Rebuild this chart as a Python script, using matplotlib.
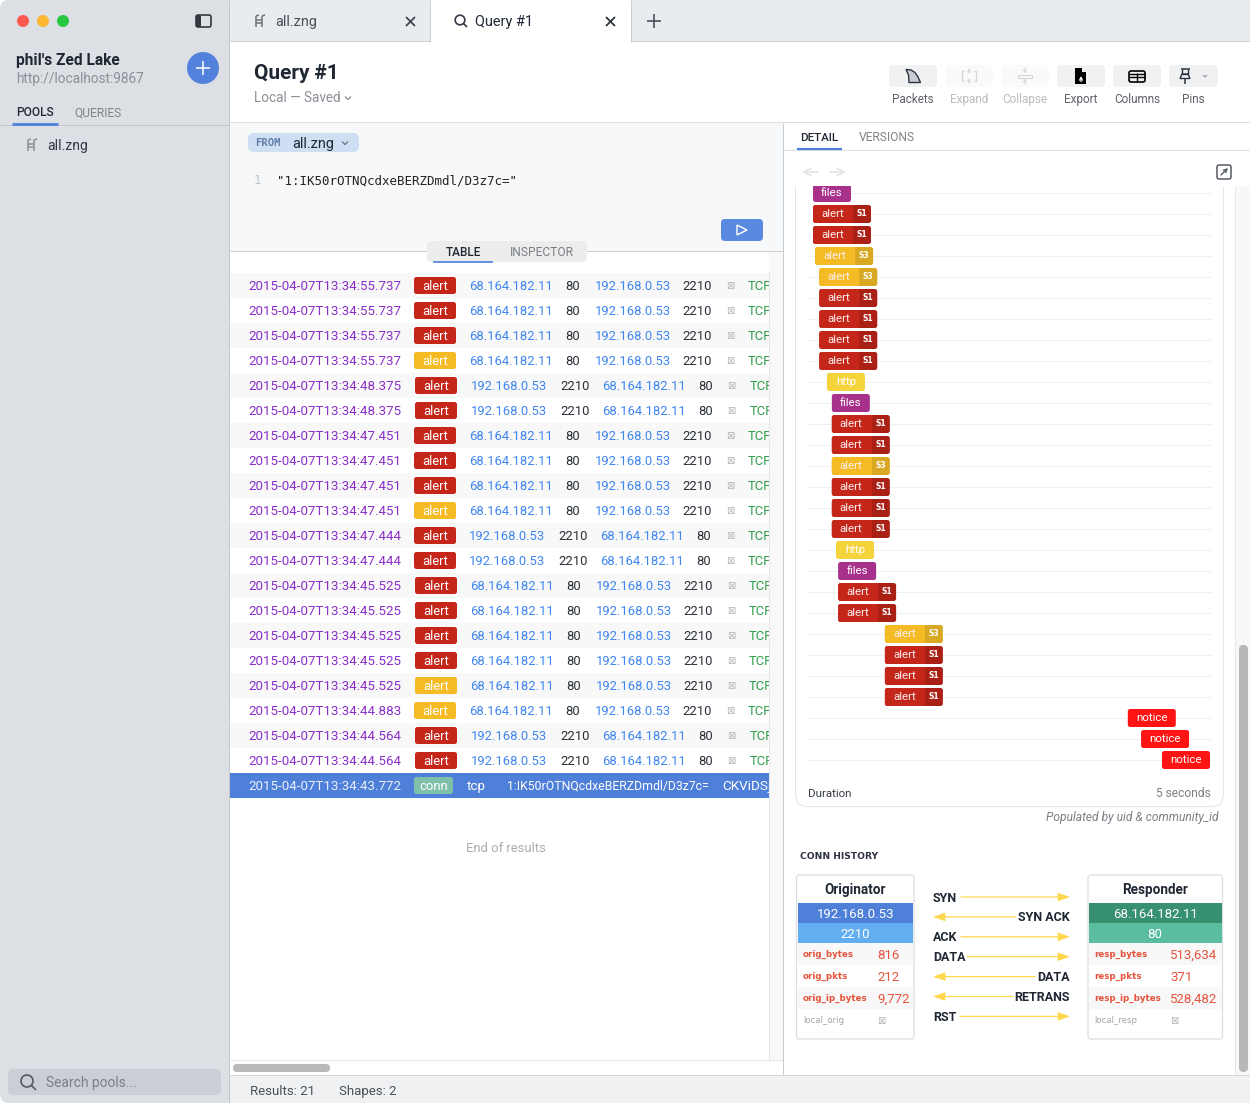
import matplotlib
matplotlib.use("Agg")
import matplotlib.pyplot as plt
from matplotlib.patches import FancyBboxPatch, Rectangle, Circle, Polygon

# table rows
row_times = ["2015-04-07T13:34:55.737"] * 4 + ["2015-04-07T13:34:48.375"] * 2 + \
    ["2015-04-07T13:34:47.451"] * 4 + ["2015-04-07T13:34:47.444"] * 2 + \
    ["2015-04-07T13:34:45.525"] * 5 + ["2015-04-07T13:34:44.883"] + \
    ["2015-04-07T13:34:44.564"] * 2
row_severity = [1, 1, 1, 3, 1, 1, 1, 1, 1, 3, 1, 1, 1, 1, 1, 1, 3, 3, 1, 1]
row_from_orig = [0, 0, 0, 0, 1, 1, 0, 0, 0, 0, 1, 1, 0, 0, 0, 0, 0, 0, 1, 1]
orig_host, orig_port = "192.168.0.53", "2210"
resp_host, resp_port = "68.164.182.11", "80"

# timeline events, start is seconds after the first event
event_names = ["files", "alert", "alert", "alert", "alert", "alert", "alert", "alert", "alert", "http",
               "files", "alert", "alert", "alert", "alert", "alert", "alert", "http", "files", "alert",
               "alert", "alert", "alert", "alert", "alert", "notice", "notice", "notice"]
event_tags = ["", "S1", "S1", "S3", "S3", "S1", "S1", "S1", "S1", "",
              "", "S1", "S1", "S3", "S1", "S1", "S1", "", "", "S1",
              "S1", "S3", "S1", "S1", "S1", "", "", ""]
event_start = [0, 0, 0, 0.03, 0.09, 0.09, 0.09, 0.09, 0.09, 0.2,
               0.27, 0.27, 0.27, 0.27, 0.27, 0.27, 0.27, 0.33, 0.36, 0.36,
               0.36, 1.03, 1.03, 1.03, 1.03, 4.51, 4.70, 5.0]

# conn history
orig_labels = ["orig_bytes", "orig_pkts", "orig_ip_bytes", "local_orig"]
orig_values = ["816", "212", "9,772", "⊠"]
resp_labels = ["resp_bytes", "resp_pkts", "resp_ip_bytes", "local_resp"]
resp_values = ["513,634", "371", "528,482", "⊠"]
history_names = ["SYN", "SYN ACK", "ACK", "DATA", "DATA", "RETRANS", "RST"]
history_to_resp = [1, 0, 1, 1, 0, 0, 1]

tool_names = ["Packets", "Expand", "Collapse", "Export", "Columns", "Pins"]
tool_enabled = [1, 0, 0, 1, 1, 1]

RED = "#c4261a"
RED_DARK = "#ab2015"
YELLOW = "#f5bb25"
YELLOW_DARK = "#d9a822"
BLUE = "#4f80d9"
LINK = "#3f86f0"
INK = "#1f2733"
GREY = "#7b7f85"

FONT = ["Roboto", "DejaVu Sans"]
MONO = ["DejaVu Sans Mono"]
TIME_SIZE = 9.62

fig = plt.figure(figsize=(12.5, 11.03), dpi=100)
ax = fig.add_axes([0, 0, 1, 1])
ax.set_xlim(0, 1250)
ax.set_ylim(1103, 0)
ax.axis("off")


def box(x0, y0, x1, y1, color, z=1, radius=0, edge="none", lw=0):
    if radius:
        p = FancyBboxPatch((x0, y0), x1 - x0, y1 - y0, boxstyle="round,pad=0,rounding_size=%s" % radius,
                           facecolor=color, edgecolor=edge, linewidth=lw, zorder=z)
    else:
        p = Rectangle((x0, y0), x1 - x0, y1 - y0, facecolor=color, edgecolor=edge, linewidth=lw, zorder=z)
    ax.add_patch(p)


def line(xs, ys, color, lw=0.72, z=2):
    ax.plot(xs, ys, color=color, lw=lw, zorder=z, solid_capstyle="butt")


def txt(x, y, s, px, color=INK, ha="left", weight="normal", z=5, family=FONT, style="normal"):
    # y is the visual middle of the text, px the font size in pixels
    return ax.text(x, y + 0.36 * px, s, fontsize=px * 0.72, color=color, ha=ha, va="baseline",
                   fontweight=weight, zorder=z, family=family, style=style)


def arrow(x0, y0, x1, y1, color, lw, size, style="->", z=6):
    ax.annotate("", xy=(x1, y1), xytext=(x0, y0), zorder=z,
                arrowprops=dict(arrowstyle=style, color=color, lw=lw, mutation_scale=size, shrinkA=0, shrinkB=0))


def pool_icon(x, y, color):
    line([x - 4, x - 4], [y - 5, y + 6], color, 1.1, 6)
    line([x + 2, x + 2], [y - 5, y + 6], color, 1.1, 6)
    line([x - 4, x + 2], [y - 1, y - 1], color, 1.1, 6)
    line([x - 4, x + 2], [y + 2, y + 2], color, 1.1, 6)
    line([x + 2, x + 5], [y - 5, y - 6], color, 1.1, 6)
    line([x - 4, x - 1], [y - 5, y - 6], color, 1.1, 6)


def chevron(x, y, color, s=3):
    line([x - s, x, x + s], [y - s / 2, y + s / 2, y - s / 2], color, 0.9, 6)


# window areas
box(0, 0, 1250, 1103, "white", 0)
box(0, 0, 240, 1103, "#dcdfe4", 1, radius=9)
box(230, 0, 1250, 41, "#e9ecef", 1)
box(430, 0, 631, 42, "white", 2)
line([230, 430], [41, 41], "#c9ccd1")
line([631, 1250], [41, 41], "#c9ccd1")
line([430, 430], [0, 42], "#c9ccd1", 0.72, 3)
line([631, 631], [0, 42], "#c9ccd1", 0.72, 3)
box(230, 42, 1250, 1103, "white", 1)
line([229, 229], [0, 1103], "#c4c7cc", 0.72, 3)

# sidebar
for cx, c in zip([23, 43, 63], ["#fb5a50", "#fdb62f", "#28c840"]):
    ax.add_patch(Circle((cx, 21), 6, facecolor=c, edgecolor="none", zorder=4))
box(196, 15, 211, 27, "none", 4, radius=2, edge="#33383f", lw=1.2)
box(196, 15, 201, 27, "#33383f", 4, radius=1.5)
txt(16, 59, "phil's Zed Lake", 15.5, INK, weight="bold")
txt(16, 78, "http://localhost:9867", 13.6, "#8b8f96")
ax.add_patch(Circle((203, 68), 16, facecolor="#5282db", edgecolor="none", zorder=4))
line([196, 210], [68, 68], "white", 1.1, 5)
line([203, 203], [61, 75], "white", 1.1, 5)
txt(16, 112, "POOLS", 12, INK, weight="medium")
txt(74, 112, "QUERIES", 12, "#7f8389")
line([0, 229], [125, 125], "#c3c6cb")
line([12, 58], [124, 124], "#4f80d9", 2, 4)
pool_icon(32, 145, "#8b8f96")
txt(47.5, 145, "all.zng", 14, "#333a45")
box(8, 1069, 221, 1095, "#cbced4", 2, radius=6)
ax.add_patch(Circle((27, 1081), 6, facecolor="none", edgecolor="#555a62", linewidth=1.2, zorder=4))
line([31.5, 36], [1085.5, 1090], "#555a62", 1.2, 4)
txt(46, 1082, "Search pools...", 13.8, "#7b7f86")

# tab bar
pool_icon(260, 21, "#6d7279")
txt(275, 21, "all.zng", 14.5, "#4a5059")
line([406, 415], [17, 26], "#333a45", 1.2, 4)
line([406, 415], [26, 17], "#333a45", 1.2, 4)
ax.add_patch(Circle((460, 20), 4.8, facecolor="none", edgecolor="#333a45", linewidth=1.2, zorder=4))
line([463.5, 467], [23.5, 27], "#333a45", 1.2, 4)
txt(475, 21, "Query #1", 14.5, INK)
line([606, 615], [17, 26], "#1f2733", 1.2, 4)
line([606, 615], [26, 17], "#1f2733", 1.2, 4)
line([647, 661], [21, 21], "#4a5059", 1.2, 4)
line([654, 654], [14, 28], "#4a5059", 1.2, 4)

# header
txt(254, 72, "Query #1", 20.8, INK, weight="bold")
txt(254, 97, "Local — Saved", 13.5, "#8b8f96")
chevron(348, 98, "#8b8f96")
line([230, 1250], [122, 122], "#dcdee2")
for i, name in enumerate(tool_names):
    x0 = 889 + 56 * i
    on = tool_enabled[i]
    box(x0, 65, x0 + (49 if name == "Pins" else 48), 87, "#f0f1f2" if on else "#fafafa", 2, radius=5)
    txt(x0 + 24, 99, name, 11.8, "#5e6269" if on else "#b9bcc0", ha="center")
# toolbar icons
ax.add_patch(Polygon([[906, 69.5], [911, 70], [915, 72.5], [918, 77], [920.5, 82.5], [909, 82.5], [908.5, 75]], closed=True,
                     facecolor="#c9cdd3", edgecolor="#2c3340", lw=1, zorder=4))
line([964, 962, 962, 964], [71, 71, 81, 81], "#d4d6d9", 0.9, 4)
line([974, 976, 976, 974], [71, 71, 81, 81], "#d4d6d9", 0.9, 4)
arrow(969, 73, 969, 68, "#d4d6d9", 0.8, 5)
arrow(969, 79, 969, 84, "#d4d6d9", 0.8, 5)
box(1018, 74.5, 1032, 77.5, "none", 4, edge="#d4d6d9", lw=0.8)
arrow(1025, 68, 1025, 73.5, "#d4d6d9", 0.8, 5)
arrow(1025, 84, 1025, 78.5, "#d4d6d9", 0.8, 5)
ax.add_patch(Polygon([[1075, 68], [1082, 68], [1082, 72], [1086, 72], [1086, 84], [1075, 84]], closed=True,
                     facecolor="black", edgecolor="none", zorder=4))
arrow(1081, 81.5, 1081, 76, "white", 0.9, 5)
box(1129, 71, 1145, 82, "none", 4, radius=2, edge="black", lw=1.2)
line([1129, 1145], [76.5, 76.5], "black", 1, 4)
line([1129, 1145], [73.5, 73.5], "black", 1, 4)
line([1137, 1137], [73, 82], "black", 1, 4)
line([1180.5, 1189.5], [69, 69], "#2c3340", 1.1, 4)
line([1182, 1182, 1188, 1188], [69, 74, 74, 69], "#2c3340", 1, 4)
ax.add_patch(Polygon([[1182, 74], [1188, 74], [1190, 78.5], [1180, 78.5]], closed=True, facecolor="none", edgecolor="#2c3340", lw=1, zorder=4))
line([1185, 1185], [78.5, 84], "#2c3340", 1.1, 4)
chevron(1205, 76, "#9a9da2", 2)

# editor
box(230, 123, 783, 251, "#f7f8fa", 1)
line([230, 783], [251, 251], "#c9ccd1", 0.72, 2)
box(248, 133, 359, 152, "#cfdff3", 2, radius=6)
txt(255, 142.5, "FROM", 10.5, "#5f7fa8", weight="bold", family=MONO)
txt(292, 142.5, "all.zng", 14.5, "#1f2733")
chevron(345, 143, "#6d7279")
txt(254, 180, "1", 12.5, "#c0c3c7", family=MONO)
txt(277, 180, '"1:IK50rOTNQcdxeBERZDmdl/D3z7c="', 12.5, "#222222", family=MONO)
box(721, 219, 763, 241, "#5a8ae0", 2, radius=4)
ax.add_patch(Polygon([[737, 225], [737, 235], [747, 230]], closed=True, facecolor="none", edgecolor="white", lw=1, zorder=4))
box(427, 241, 587, 262, "#ececed", 3, radius=5)
line([433, 493], [262, 262], "#4f80d9", 1.2, 4)
txt(463, 252, "TABLE", 11.7, INK, ha="center", weight="medium")
txt(542, 252, "INSPECTOR", 12, "#7b7f85", ha="center")

# table rows
for i in range(len(row_times)):
    y = 285 + 25 * i
    if i % 2 == 0:
        box(230, y - 12, 769, y + 13, "#f8f8f8", 1.5)
    shift = {"55.737": 0, "48.375": 1, "47.451": 0, "47.444": -1, "45.525": 1, "44.883": 0, "44.564": 1}[row_times[i][-6:]]
    ax.text(248.5, y + 5, row_times[i], fontsize=TIME_SIZE, color="#8a2fc9", family=FONT, zorder=5)
    bx = 414 + (1 if shift > 0 else 0)
    box(bx, y - 8, bx + 42, y + 9, RED if row_severity[i] == 1 else YELLOW, 3, radius=2.5)
    ax.text(bx + 21, y + 5, "alert", fontsize=9.4, color="white", ha="center", family=FONT, zorder=5)
    if row_from_orig[i]:
        hosts = [(470 + shift, orig_host), (601 + shift, resp_host)]
        ports = [(559 + shift, orig_port), (697 + shift, resp_port)]
    else:
        hosts = [(469.5 + shift, resp_host), (594.5 + shift, orig_host)]
        ports = [(565.5 + shift, resp_port), (682.5 + shift, orig_port)]
    for px, s in hosts:
        ax.text(px, y + 5, s, fontsize=9.4, color=LINK, family=FONT, zorder=5)
    for px, s in ports:
        ax.text(px, y + 5, s, fontsize=9.4, color="#2a2f38", family=FONT, zorder=5)
    txt(730 + (1 if shift > 0 else 0), y, "⊠", 10, "#b4b6b9", ha="center")
    ax.text(748 + (1 if shift > 0 else 0) + (1 if row_from_orig[i] and shift > 0 else 0), y + 5, "TCP",
            fontsize=9.4, color="#2f9e4a", family=FONT, zorder=5)

# selected row
box(230, 773, 769, 798, BLUE, 2)
ax.text(248.5, 790, "2015-04-07T13:34:43.772", fontsize=TIME_SIZE, color="#e8eefb", family=FONT, zorder=5)
box(414, 777, 453, 794, "#7fc0a8", 3, radius=2.5)
ax.text(433.5, 790, "conn", fontsize=9.4, color="white", ha="center", family=FONT, zorder=5)
ax.text(467, 790, "tcp", fontsize=9.7, color="white", family=FONT, zorder=5)
ax.text(507.5, 790, "1:IK50rOTNQcdxeBERZDmdl/D3z7c=", fontsize=8.8, color="white", family=FONT, zorder=5)
ax.text(722.5, 790, "CKViDSj", fontsize=9.7, color="white", family=FONT, zorder=5)
txt(506, 847.5, "End of results", 13, "#aaadb1", ha="center")

box(769, 252, 783, 1060, "#f8f8f8", 6)
line([769, 769], [272, 1060], "#e4e5e7", 0.72, 7)
line([230, 783], [1060, 1060], "#e4e5e7", 0.72, 7)
box(233, 1064, 330, 1072, "#b9b9b9", 7, radius=4)
line([783, 783], [123, 1075], "#c9ccd1", 0.72, 7)

# status bar
box(230, 1075, 1250, 1103, "#f0f1f3", 8)
line([230, 1250], [1075, 1075], "#d3d5d9", 0.72, 9)
txt(250, 1090, "Results: 21", 13.2, "#4a5059", z=9)
txt(339, 1090, "Shapes: 2", 13.2, "#4a5059", z=9)

# detail pane
txt(800, 137, "DETAIL", 11.5, INK, weight="medium")
txt(859, 137, "VERSIONS", 12, "#7f8389")
line([784, 1250], [150, 150], "#dcdee2", 0.72, 2)
line([797, 842], [149, 149], "#4f80d9", 1.6, 3)
arrow(818, 172, 802, 172, "#e2e4e8", 1.2, 13)
arrow(830, 172, 846, 172, "#e2e4e8", 1.2, 13)
box(1217, 165, 1231, 179, "none", 6, radius=2, edge="#555a62", lw=1.1)
arrow(1221, 175, 1228, 168, "#555a62", 1, 6)

# timeline, 69.8 px per second
for i, name in enumerate(event_names):
    y = 192 + 21 * i
    line([808, 1211], [y + 1, y + 1], "#eef0f1", 0.72, 1.5)
    x = 813 + event_start[i] * 69.8
    if name == "alert":
        dark = RED_DARK if event_tags[i] == "S1" else YELLOW_DARK
        main = RED if event_tags[i] == "S1" else YELLOW
        box(x, y - 8, x + 58, y + 10, dark, 3, radius=2.5)
        box(x, y - 8, x + 40, y + 10, main, 3, radius=2.5)
        box(x + 20, y - 8, x + 40, y + 10, main, 3)
        txt(x + 8, y, name, 11.5, "#fbeeee")
        txt(x + 49, y, event_tags[i], 7.6, "white", ha="center", weight="bold", family=["DejaVu Sans"])
    elif name == "notice":
        box(x, y - 8, x + 48, y + 10, "#ff1414", 3, radius=2.5)
        txt(x + 24, y, name, 11.5, "white", ha="center")
    else:
        c = "#a7318b" if name == "files" else "#f5d33a"
        box(x, y - 8, x + 38, y + 10, c, 3, radius=2.5)
        txt(x + 19, y, name, 11.5, "white", ha="center")
box(784, 151, 1250, 186, "white", 4)
txt(808, 793, "Duration", 11.5, "#333a45")
txt(1211, 793, "5 seconds", 12, "#7b7f85", ha="right")
line([1223, 1223], [186, 796], "#e4e5e7", 0.72, 2)
line([795, 795], [186, 796], "#e4e5e7", 0.72, 2)
line([806, 1213], [806, 806], "#e4e5e7", 0.72, 2)
ax.plot([795.5, 798, 806], [796, 804, 806.5], color="#e4e5e7", lw=0.72, zorder=2)
ax.plot([1213, 1221, 1223.5], [806.5, 804, 796], color="#e4e5e7", lw=0.72, zorder=2)
txt(1219, 817, "Populated by uid & community_id", 12, "#7b7f85", ha="right", style="italic")
ax.text(800, 859.2, "CONN HISTORY", fontsize=6.6, color="#2c3340", fontweight="bold", family=["DejaVu Sans"], zorder=5)

# vertical scroll track
box(1235, 186, 1250, 1075, "#f8f8f8", 1.2)
line([1235, 1235], [186, 1075], "#e6e7e9", 0.72, 2)
box(1239, 645, 1248, 1072, "#b8b8b8", 3, radius=4.5)


def side_panel(x0, x1, title, host, port, host_c, port_c, labels, values, lx, vx):
    box(x0, 875, x1, 1039, "white", 2, radius=3, edge="#dcdee2", lw=0.9)
    txt((x0 + x1) / 2, 889, title, 13.5, INK, ha="center", weight="bold")
    box(x0 + 1, 903, x1 - 1, 923, host_c, 3)
    box(x0 + 1, 923, x1 - 1, 943, port_c, 3)
    txt((x0 + x1) / 2, 913, host, 13.3, "white", ha="center")
    txt((x0 + x1) / 2, 933, port, 13.3, "white", ha="center")
    for j in range(len(labels)):
        yy = 954 + 22 * j
        if j % 2 == 0:
            box(x0 + 1, yy - 11, x1 - 1, yy + 11, "#f8f8f8", 2.5)
        muted = j == 3
        txt(lx, yy, labels[j], 8.6, "#a2a5a9" if muted else "#e5533c", weight="normal" if muted else "bold", family=["DejaVu Sans"])
        txt(vx, yy, values[j], 10 if muted else 13.2, "#b4b6b9" if muted else "#e5533c")


side_panel(796.5, 914, "Originator", orig_host, orig_port, BLUE, "#62aef0", orig_labels, orig_values, 803, 877)
side_panel(1088, 1222.5, "Responder", resp_host, resp_port, "#37906f", "#5bbd9f", resp_labels, resp_values, 1094.5, 1170)

# history arrows
arrow_start = {"SYN": 961, "ACK": 961, "RST": 960, "SYN ACK": 1016, "RETRANS": 1013}
for i, name in enumerate(history_names):
    y = 897 + 19.9 * i
    if history_to_resp[i]:
        txt(933, y, name, 12.5, INK, weight="bold")
        start = arrow_start.get(name, 967)
        end = 1070
    else:
        txt(1070, y, name, 12.5, INK, ha="right", weight="bold")
        start = arrow_start.get(name, 1035)
        end = 933
    arrow(start, y, end, y, "#ffd84f", 0.9, 11, "-|>,head_length=0.65,head_width=0.23", 4)

fig.savefig("out.png", dpi=100)
